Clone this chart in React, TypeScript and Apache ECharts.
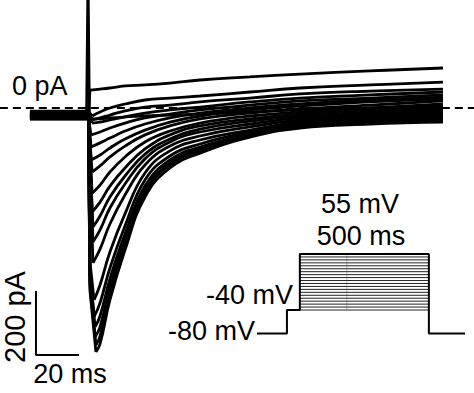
import React, { useEffect, useRef } from 'react';
import * as echarts from 'echarts';

// ---- current traces (time in ms from step onset, current in pA) ----
const preTime = -27;
const onsetTime = 0.2;
const earlyTime = 0.9;
const decayTimes = [5.6, 10.2, 17.2, 26.5, 38.1, 52.1, 75.3, 98.6, 131.2, 165.1];
const preCurrents = [-15, -10, -20, -25, -12, -30, -18, -22, -35, -28, -14, -32, -24, -20, -27, -16, -30, -22, -34, -26];
const peakTimes = [0.9, 1.9, 1.9, 2.3, 1.9, 1.4, 1.4, 1.4, 1.9, 1.9, 1.9, 2.3, 2.3, 2.3, 2.8, 2.8, 3.3, 3.3, 3.7, 3.7];
const peakCurrents = [56, -25, -37.5, -34, -47, -84, -122, -162.5, -200, -266, -325, -372, -419, -484, -600, -653, -684, -716, -741, -762.5];
const earlyCurrents = [null, null, null, null, null, null, null, null, null, null, null, null, null, null, -480, -500, -520, -540, -555, -570];

const sweep01 = [59, 62.5, 69, 72, 78, 87.5, 97, 106, 116, 125];
const sweep02 = [-12.5, 0, 12.5, 25, 31, 37.5, 50, 62.5, 72, 81];
const sweep03 = [-31, -22, -9, 3, 9, 19, 31, 44, 53, 59];
const sweep04 = [-34, -31, -28, -25, -22, -19, -12.5, -6, 0, 6];
const sweep05 = [-44, -37.5, -28, -16, -6, 3, 19, 31, 41, 50];
const sweep06 = [-75, -62.5, -47, -31, -19, -6, 9, 22, 31, 41];
const sweep07 = [-109, -94, -72, -50, -31, -16, 0, 12.5, 25, 34];
const sweep08 = [-147, -125, -97, -69, -44, -25, -6, 6, 19, 28];
const sweep09 = [-181, -153, -119, -84, -56, -34, -16, -3, 9, 22];
const sweep10 = [-241, -200, -153, -106, -72, -47, -25, -12.5, 0, 12.5];
const sweep11 = [-294, -244, -187.5, -128, -84, -56, -34, -19, -6, 6];
const sweep12 = [-337.5, -278, -212.5, -144, -97, -66, -41, -25, -12.5, 0];
const sweep13 = [-381, -312.5, -237.5, -159, -106, -75, -50, -31, -19, -6];
const sweep14 = [-441, -362.5, -272, -178, -119, -87.5, -59, -37.5, -25, -12.5];
const sweep15 = [-553, -450, -331, -203, -134, -100, -69, -44, -31, -19];
const sweep16 = [-609, -500, -369, -225, -150, -112.5, -75, -50, -37.5, -25];
const sweep17 = [-650, -534, -394, -244, -162.5, -122, -81, -53, -41, -31];
const sweep18 = [-684, -559, -412.5, -256, -172, -128, -84, -56, -44, -34];
const sweep19 = [-712.5, -581, -431, -266, -178, -134, -87.5, -59, -47, -37.5];
const sweep20 = [-737.5, -600, -444, -278, -187.5, -141, -91, -62.5, -50, -44];
const sweeps = [sweep01, sweep02, sweep03, sweep04, sweep05, sweep06, sweep07, sweep08, sweep09, sweep10,
  sweep11, sweep12, sweep13, sweep14, sweep15, sweep16, sweep17, sweep18, sweep19, sweep20];

// capacitive artifact
const spikeTimes = [-0.7, 0, 0.7];
const spikeCurrents = [-25, 450, -25];

// zero-current reference
const zeroLineTimes = [-41, 180];

// scale bar
const scaleBarTime = -24.2;
const scaleBarCurrent = -772;
const scaleBarMs = 20;
const scaleBarPa = 200;

// ---- voltage protocol (ms, mV) ----
const holdingMv = -80;
const prepulseMv = -40;
const protocolTimes = [0, 116, 166, 666, 806];
const stepMv = [-40, -35, -30, -25, -20, -15, -10, -5, 0, 5, 10, 15, 20, 25, 30, 35, 40, 45, 50, 55];
const markerTime = 348;

const FONT = 'Liberation Sans, Arial, sans-serif';

export default function App() {
  const ref = useRef<HTMLDivElement>(null);
  useEffect(() => {
    if (!ref.current) return;
    const chart = echarts.init(ref.current, undefined, { renderer: 'svg' });
    const traceSeries: any[] = [];
    sweeps.forEach((vals, i) => {
      const onset: number[][] = [[preTime, preCurrents[i]], [onsetTime, preCurrents[i]]];
      if (earlyCurrents[i] !== null) onset.push([earlyTime, earlyCurrents[i] as number]);
      onset.push([peakTimes[i], peakCurrents[i]]);
      const decay: number[][] = [[peakTimes[i], peakCurrents[i]]];
      decayTimes.forEach((t, k) => decay.push([t, vals[k]]));
      traceSeries.push({
        type: 'line', xAxisIndex: 0, yAxisIndex: 0, data: onset, symbol: 'none',
        lineStyle: { color: '#000', width: 2.8 }, z: 3, silent: true,
      });
      traceSeries.push({
        type: 'line', xAxisIndex: 0, yAxisIndex: 0, data: decay, symbol: 'none',
        smooth: 0.45,
        lineStyle: { color: '#000', width: 2.8 }, z: 3, silent: true,
      });
    });
    const [t0, t1, t2, t3, t4] = protocolTimes;
    const top = stepMv[stepMv.length - 1];
    const sweepProto: any[] = stepMv.map((v) => ({
      type: 'line', xAxisIndex: 1, yAxisIndex: 1, symbol: 'none', clip: false, silent: true,
      data: [[t2, v], [t3, v]],
      lineStyle: { color: '#222', width: 1 }, z: 3,
    }));
    const option: any = {
      animation: false,
      grid: [
        { left: 0, right: 0, top: 0, bottom: 0, containLabel: false },
        { left: 257, top: 254, width: 208, height: 79.6, containLabel: false },
      ],
      xAxis: [
        { type: 'value', gridIndex: 0, min: -40.93, max: 179.53, show: false },
        { type: 'value', gridIndex: 1, min: t0, max: t4, show: false },
      ],
      yAxis: [
        { type: 'value', gridIndex: 0, min: -890.6, max: 337.5, show: false },
        { type: 'value', gridIndex: 1, min: holdingMv, max: top, show: false },
      ],
      series: [
        {
          type: 'line', xAxisIndex: 0, yAxisIndex: 0, symbol: 'none', silent: true,
          data: zeroLineTimes.map((t) => [t, 0]),
          lineStyle: { color: '#000', width: 2, type: [8, 5] }, z: 1,
        },
        ...traceSeries,
        {
          type: 'line', xAxisIndex: 0, yAxisIndex: 0, symbol: 'none', silent: true,
          data: spikeTimes.map((t, k) => [t, spikeCurrents[k]]),
          lineStyle: { color: '#000', width: 2.6 }, z: 4,
        },
        {
          type: 'line', xAxisIndex: 0, yAxisIndex: 0, symbol: 'none', silent: true,
          data: [[scaleBarTime, scaleBarCurrent + scaleBarPa], [scaleBarTime, scaleBarCurrent], [scaleBarTime + scaleBarMs, scaleBarCurrent]],
          lineStyle: { color: '#000', width: 2 }, z: 4,
        },
        ...sweepProto,
        {
          type: 'line', xAxisIndex: 1, yAxisIndex: 1, symbol: 'none', clip: false, silent: true,
          data: [[markerTime, prepulseMv], [markerTime, top]],
          lineStyle: { color: '#aaa', width: 0.8 }, z: 2,
        },
        {
          type: 'line', xAxisIndex: 1, yAxisIndex: 1, symbol: 'none', clip: false, silent: true,
          data: [[t0, holdingMv], [t1, holdingMv], [t1, prepulseMv], [t2, prepulseMv], [t2, top],
            [t3, top], [t3, holdingMv], [t4, holdingMv]],
          lineStyle: { color: '#000', width: 2 }, z: 4,
        },
      ],
      graphic: [
        { type: 'text', x: 12, y: 86, style: { text: '0 pA', font: `27px ${FONT}`, fill: '#000', textAlign: 'left', textVerticalAlign: 'middle' } },
        { type: 'text', x: 70, y: 374, style: { text: '20 ms', font: `27px ${FONT}`, fill: '#000', textAlign: 'center', textVerticalAlign: 'middle' } },
        { type: 'text', x: 15, y: 317, rotation: Math.PI / 2, style: { text: '200 pA', font: `29px ${FONT}`, fill: '#000', textAlign: 'center', textVerticalAlign: 'middle' } },
        { type: 'text', x: 255, y: 331, style: { text: '-80 mV', font: `27px ${FONT}`, fill: '#000', textAlign: 'right', textVerticalAlign: 'middle' } },
        { type: 'text', x: 293, y: 295, style: { text: '-40 mV', font: `27px ${FONT}`, fill: '#000', textAlign: 'right', textVerticalAlign: 'middle' } },
        { type: 'text', x: 360, y: 204, style: { text: '55 mV', font: `27px ${FONT}`, fill: '#000', textAlign: 'center', textVerticalAlign: 'middle' } },
        { type: 'text', x: 361, y: 236, style: { text: '500 ms', font: `27px ${FONT}`, fill: '#000', textAlign: 'center', textVerticalAlign: 'middle' } },
      ],
    };
    chart.setOption(option);
    return () => chart.dispose();
  }, []);
  return <div ref={ref} style={{ position: 'fixed', left: 0, top: 0, width: 474, height: 393, background: '#fff' }} />;
}
